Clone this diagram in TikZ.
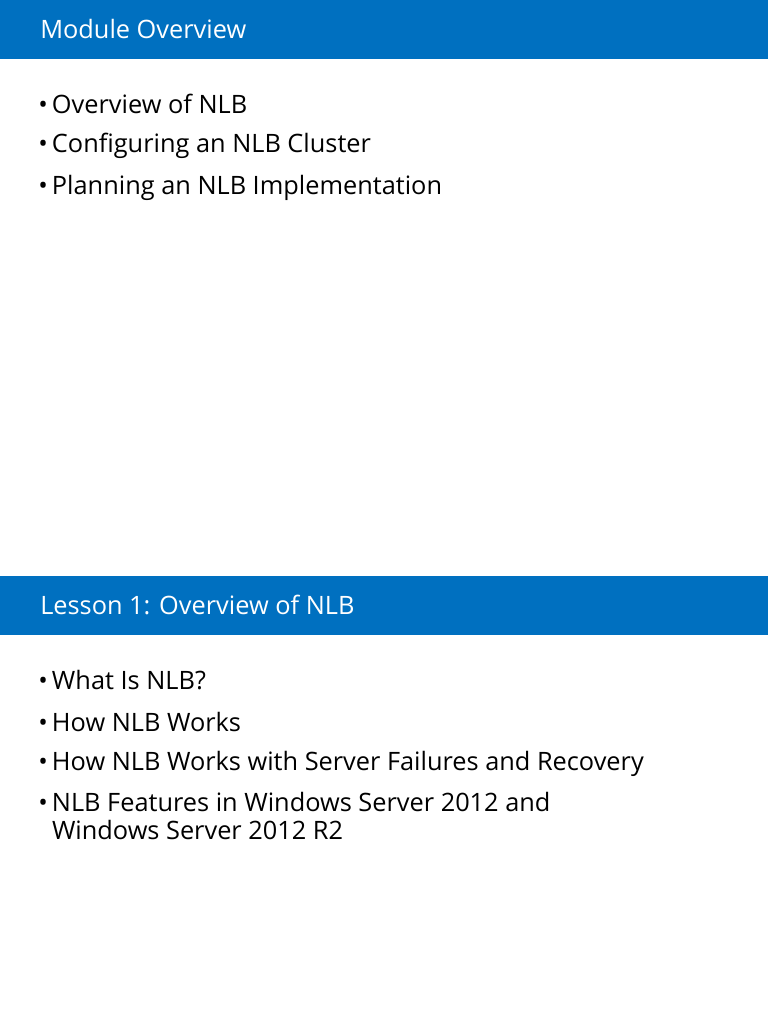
\documentclass[tikz,border=0pt]{standalone}
\usepackage{fontspec}
\setmainfont{Open Sans}
\definecolor{barblue}{RGB}{0,112,192}
\tikzset{
  bar/.style = {fill=barblue, draw=none},
  bartext/.style = {anchor=west, text=white, font=\fontsize{19}{23}\selectfont, inner sep=0pt},
  item/.style = {anchor=west, font=\fontsize{19}{23}\selectfont, inner sep=0pt, align=left}
}
\begin{document}
\begin{tikzpicture}[x=0.75pt, y=-0.75pt]
  \useasboundingbox (0,0) rectangle (768,1024);
  \fill[white] (0,0) rectangle (768,1024);

  % first slide
  \fill[bar] (0,0) rectangle (768,59);
  \node[bartext] (t1) at (40,29) {Module Overview};
  \node[item] (a1) at (38,104) {\textbullet\,Overview of NLB};
  \node[item] (a2) at (38,146) {\textbullet\,Configuring an NLB Cluster};
  \node[item] (a3) at (38,188) {\textbullet\,Planning an NLB Implementation};

  % second slide
  \fill[bar] (0,576) rectangle (768,635);
  \node[bartext] (t2) at (40,605) {Lesson 1: Overview of NLB};
  \node[item] (b1) at (38,680) {\textbullet\,What Is NLB?};
  \node[item] (b2) at (38,722) {\textbullet\,How NLB Works};
  \node[item] (b3) at (38,764) {\textbullet\,How NLB Works with Server Failures and Recovery};
  \node[item, anchor=north west] (b4) at (38,792) {\textbullet\,NLB Features in Windows Server 2012 and\\[-2pt]
    \phantom{\textbullet\,}Windows Server 2012 R2};
\end{tikzpicture}
\end{document}
